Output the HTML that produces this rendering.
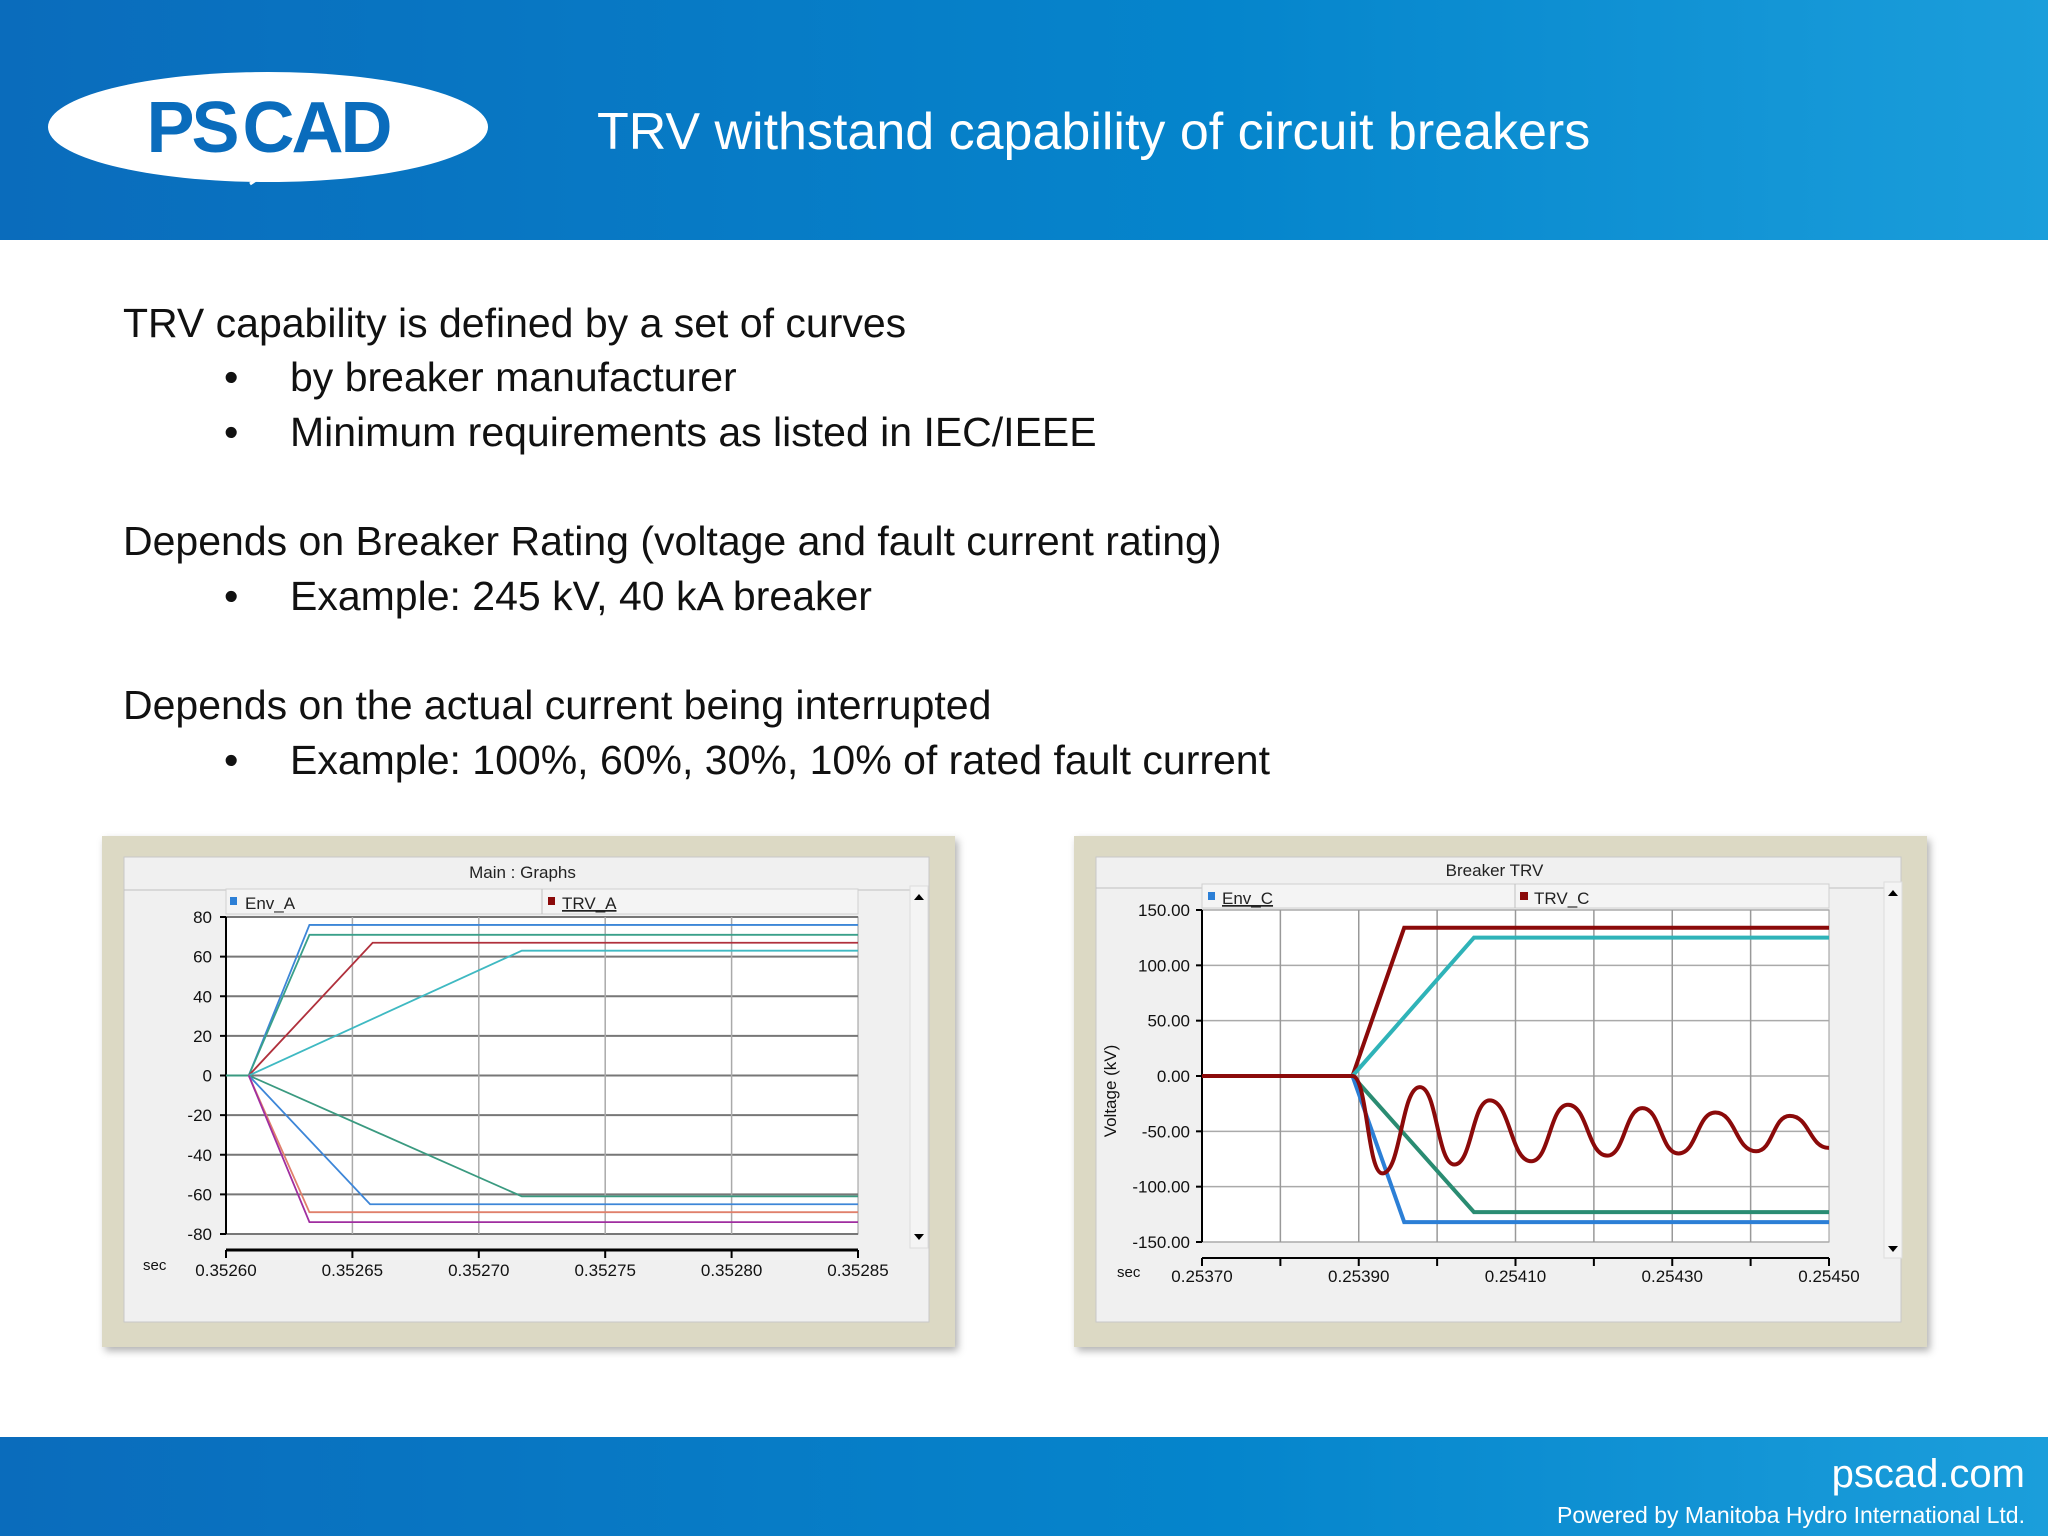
<!DOCTYPE html>
<html><head><meta charset="utf-8"><style>
html,body{margin:0;padding:0;width:2048px;height:1536px;overflow:hidden;background:#fff}
svg{display:block}
</style></head><body>
<svg id="page" width="2048" height="1536" viewBox="0 0 2048 1536" xmlns="http://www.w3.org/2000/svg" font-family="Liberation Sans, sans-serif">
<defs>
<linearGradient id="hg" x1="0" x2="1" y1="0" y2="0"><stop offset="0" stop-color="#0a6cbc"/><stop offset="0.6" stop-color="#0585cc"/><stop offset="1" stop-color="#1b9edb"/></linearGradient>
<filter id="sh" x="-5%" y="-5%" width="110%" height="110%"><feDropShadow dx="3" dy="4" stdDeviation="4" flood-color="#000" flood-opacity="0.3"/></filter>
</defs>
<rect x="0" y="0" width="2048" height="240" fill="url(#hg)"/>
<g>
<ellipse cx="268" cy="127" rx="220" ry="55" fill="#fff"/>
<text x="268" y="152" text-anchor="middle" font-size="72" font-weight="bold" fill="#0a6cbc" letter-spacing="-3">PS<tspan dx="6">CAD</tspan></text>
<path d="M246 158 l10 22 l-6 4" stroke="#fff" stroke-width="3" fill="none"/>
</g>
<text x="597" y="149" font-size="52" fill="#fff">TRV withstand capability of circuit breakers</text>

<g font-size="41" fill="#111">
<text x="123" y="337">TRV capability is defined by a set of curves</text>
<text x="224" y="391">•</text><text x="290" y="391">by breaker manufacturer</text>
<text x="224" y="446">•</text><text x="290" y="446">Minimum requirements as listed in IEC/IEEE</text>
<text x="123" y="555">Depends on Breaker Rating (voltage and fault current rating)</text>
<text x="224" y="610">•</text><text x="290" y="610">Example: 245 kV, 40 kA breaker</text>
<text x="123" y="719">Depends on the actual current being interrupted</text>
<text x="224" y="774">•</text><text x="290" y="774">Example: 100%, 60%, 30%, 10% of rated fault current</text>
</g>

<g id="chart1"></g>
<g id="chart2"></g>

<rect x="0" y="1437" width="2048" height="99" fill="url(#hg)"/>
<text x="2025" y="1487" text-anchor="end" font-size="40" fill="#fff">pscad.com</text>
<text x="2025" y="1523" text-anchor="end" font-size="23" fill="#fff">Powered by Manitoba Hydro International Ltd.</text>
</svg>
<script>
// ---- Chart 1 data ----
const c1YTicks = [80,60,40,20,0,-20,-40,-60,-80];
const c1XTicks = [0.35260,0.35265,0.35270,0.35275,0.35280,0.35285];
const c1XLabels = ["0.35260","0.35265","0.35270","0.35275","0.35280","0.35285"];
const c1Start = 0.352609;
const c1BreakT = [0.352633,0.352633,0.352658,0.352717,0.352717,0.352657,0.352633,0.352633];
const c1Final = [76,71,67,63,-61,-65,-69,-74];
const c1Colors = ["#3d86d8","#3aa08a","#b0303c","#3fb9c2","#3a9a80","#3d86d8","#e0806c","#a02ea0"];
// ---- Chart 2 data ----
const c2YTicks = [150,100,50,0,-50,-100,-150];
const c2YLabels = ["150.00","100.00","50.00","0.00","-50.00","-100.00","-150.00"];
const c2XTicks = [0.25370,0.25380,0.25390,0.25400,0.25410,0.25420,0.25430,0.25440,0.25450];
const c2XLabels = ["0.25370","","0.25390","","0.25410","","0.25430","","0.25450"];
const c2Start = 0.253892;
const c2EnvT = [0.253958,0.254047,0.254047,0.253958];
const c2EnvV = [134,125,-123,-132];
const c2EnvColors = ["#8b0a0a","#2fb3b8","#2a8c72","#2c7fd6"];
const c2OscT = [0.253892,0.253930,0.253978,0.254022,0.254067,0.254120,0.254167,0.254217,0.254262,0.254308,0.254355,0.254407,0.254450,0.254500];
const c2OscV = [0,-88,-10,-80,-22,-77,-26,-72,-29,-70,-33,-68,-36,-65];

const NS="http://www.w3.org/2000/svg";
function mk(parent,tag,attrs,txt){const e=document.createElementNS(NS,tag);for(const k in attrs)e.setAttribute(k,attrs[k]);if(txt!==undefined)e.textContent=txt;parent.appendChild(e);return e;}

function frame(g,X,Y,W,H,title,titleY){
  mk(g,'rect',{x:X,y:Y,width:W,height:H,fill:'#dcd9c4',filter:'url(#sh)'});
  mk(g,'rect',{x:X+22,y:Y+21,width:W-48,height:H-46,fill:'#f0f0f0',stroke:'#c8c8c8'});
  const t=mk(g,'text',{x:X+W/2-6,y:titleY,'text-anchor':'middle','font-size':17,fill:'#222'},title);
  
  
  mk(g,'line',{x1:X+22,x2:X+W-26,y1:titleY+12,y2:titleY+12,stroke:'#c0c0c0'});
}

(function(){
  const g=document.getElementById('chart1');
  const L=226,R=858,T=917,B=1234;
  const x=t=>L+(t-0.35260)/0.00025*(R-L);
  const y=v=>T+(80-v)/160*(B-T);
  frame(g,102,836,853,511,'Main : Graphs',878);
  const lg=mk(g,'g',{});
  
  
  mk(lg,'rect',{x:226,y:889,width:632,height:25,fill:'#f4f4f4',stroke:'#d0d0d0'});
  mk(lg,'line',{x1:542,x2:542,y1:889,y2:914,stroke:'#c0c0c0'});
  mk(lg,'rect',{x:230,y:897,width:7,height:8,fill:'#2c7fd6'});
  mk(lg,'text',{x:245,y:909,'font-size':17,fill:'#222'},'Env_A');
  mk(lg,'rect',{x:548,y:897,width:7,height:8,fill:'#8b0a0a'});
  mk(lg,'text',{x:562,y:909,'font-size':17,fill:'#222','text-decoration':'underline'},'TRV_A');
  mk(g,'rect',{x:L,y:T,width:R-L,height:B-T,fill:'#fff',stroke:'#999'});
  c1YTicks.forEach(v=>{
    const l=mk(g,'line',{x1:L,x2:R,y1:y(v),y2:y(v),stroke:'#777','stroke-width':2});
    
    
    mk(g,'line',{x1:L-6,x2:L,y1:y(v),y2:y(v),stroke:'#000','stroke-width':2});
    const tl=mk(g,'text',{x:L-14,y:y(v)+6,'text-anchor':'end','font-size':17,fill:'#111'},String(v));
    
    
  });
  c1XTicks.forEach((t,i)=>{
    if(i>0&&i<c1XTicks.length-1){const l=mk(g,'line',{x1:x(t),x2:x(t),y1:T,y2:B,stroke:'#aaa','stroke-width':1.5});
      
      }
    mk(g,'line',{x1:x(t),x2:x(t),y1:1250,y2:1258,stroke:'#000','stroke-width':2});
    const tl=mk(g,'text',{x:x(t),y:1276,'text-anchor':'middle','font-size':17,fill:'#111'},c1XLabels[i]);
    
    
  });
  mk(g,'line',{x1:L,x2:R,y1:1250,y2:1250,stroke:'#000','stroke-width':3});
  mk(g,'line',{x1:L,x2:L,y1:T,y2:B,stroke:'#000','stroke-width':2});
  const sec=mk(g,'text',{x:143,y:1270,'font-size':15,fill:'#111'},'sec');
  
  
  const sb=mk(g,'g',{});
  
  
  mk(sb,'rect',{x:910,y:886,width:18,height:362,fill:'#f4f4f4',stroke:'#ddd'});
  mk(sb,'path',{d:'M914 900 l5 -6 l5 6z',fill:'#000'});
  mk(sb,'path',{d:'M914 1234 l5 6 l5 -6z',fill:'#000'});
  mk(g,'line',{x1:L,x2:x(c1Start),y1:y(0),y2:y(0),stroke:'#3a9a80','stroke-width':2});
  c1Final.forEach((v,i)=>{
    const p=mk(g,'polyline',{points:`${x(c1Start)},${y(0)} ${x(c1BreakT[i])},${y(v)} ${R},${y(v)}`,fill:'none',stroke:c1Colors[i],'stroke-width':1.8});
    
    
  });
})();

(function(){
  const g=document.getElementById('chart2');
  const L=1202,R=1829,T=910,B=1242;
  const x=t=>L+(t-0.25370)/0.0008*(R-L);
  const y=v=>T+(150-v)/300*(B-T);
  frame(g,1074,836,853,511,'Breaker TRV',876);
  const lg=mk(g,'g',{});
  
  
  mk(lg,'rect',{x:1202,y:884,width:627,height:24,fill:'#f4f4f4',stroke:'#d0d0d0'});
  mk(lg,'line',{x1:1515,x2:1515,y1:884,y2:908,stroke:'#c0c0c0'});
  mk(lg,'rect',{x:1208,y:892,width:7,height:8,fill:'#2c7fd6'});
  mk(lg,'text',{x:1222,y:904,'font-size':17,fill:'#222','text-decoration':'underline'},'Env_C');
  mk(lg,'rect',{x:1520,y:892,width:8,height:8,fill:'#8b0a0a'});
  mk(lg,'text',{x:1534,y:904,'font-size':17,fill:'#222'},'TRV_C');
  mk(g,'rect',{x:L,y:T,width:R-L,height:B-T,fill:'#fff',stroke:'#999'});
  c2YTicks.forEach((v,i)=>{
    const l=mk(g,'line',{x1:L,x2:R,y1:y(v),y2:y(v),stroke:'#aaa','stroke-width':1.5});
    
    
    mk(g,'line',{x1:L-6,x2:L,y1:y(v),y2:y(v),stroke:'#000','stroke-width':2});
    const tl=mk(g,'text',{x:L-12,y:y(v)+6,'text-anchor':'end','font-size':17,fill:'#111'},c2YLabels[i]);
    
    
  });
  c2XTicks.forEach((t,i)=>{
    if(i>0&&i<c2XTicks.length-1){const l=mk(g,'line',{x1:x(t),x2:x(t),y1:T,y2:B,stroke:'#999','stroke-width':1.5});
      
      }
    mk(g,'line',{x1:x(t),x2:x(t),y1:1258,y2:1266,stroke:'#000','stroke-width':2});
    const tl=mk(g,'text',{x:x(t),y:1282,'text-anchor':'middle','font-size':17,fill:'#111'},c2XLabels[i]);
    
    
  });
  mk(g,'line',{x1:L,x2:R,y1:1258,y2:1258,stroke:'#000','stroke-width':2});
  mk(g,'line',{x1:L,x2:L,y1:T,y2:B,stroke:'#000','stroke-width':2});
  const sec=mk(g,'text',{x:1117,y:1277,'font-size':15,fill:'#111'},'sec');
  
  
  const yt=mk(g,'text',{x:0,y:0,'font-size':17,fill:'#111','text-anchor':'middle',transform:'translate(1116,1091) rotate(-90)'},'Voltage (kV)');
  
  
  const sb=mk(g,'g',{});
  
  
  mk(sb,'rect',{x:1884,y:882,width:18,height:376,fill:'#f4f4f4',stroke:'#ddd'});
  mk(sb,'path',{d:'M1888 896 l5 -6 l5 6z',fill:'#000'});
  mk(sb,'path',{d:'M1888 1246 l5 6 l5 -6z',fill:'#000'});
  c2EnvV.forEach((v,i)=>{
    const p=mk(g,'polyline',{points:`${x(c2Start)},${y(0)} ${x(c2EnvT[i])},${y(v)} ${R},${y(v)}`,fill:'none',stroke:c2EnvColors[i],'stroke-width':4});
    
    
  });
  let d=`M${L},${y(0)} L${x(c2OscT[0])},${y(c2OscV[0])}`;
  for(let i=1;i<c2OscT.length;i++){
    const x0=x(c2OscT[i-1]),y0=y(c2OscV[i-1]),x1=x(c2OscT[i]),y1=y(c2OscV[i]);
    const mx=(x0+x1)/2;
    d+=` C${mx},${y0} ${mx},${y1} ${x1},${y1}`;
  }
  const p=mk(g,'path',{d:d,fill:'none',stroke:'#8b0a0a','stroke-width':4});
  
  
})();
</script>
</body></html>
